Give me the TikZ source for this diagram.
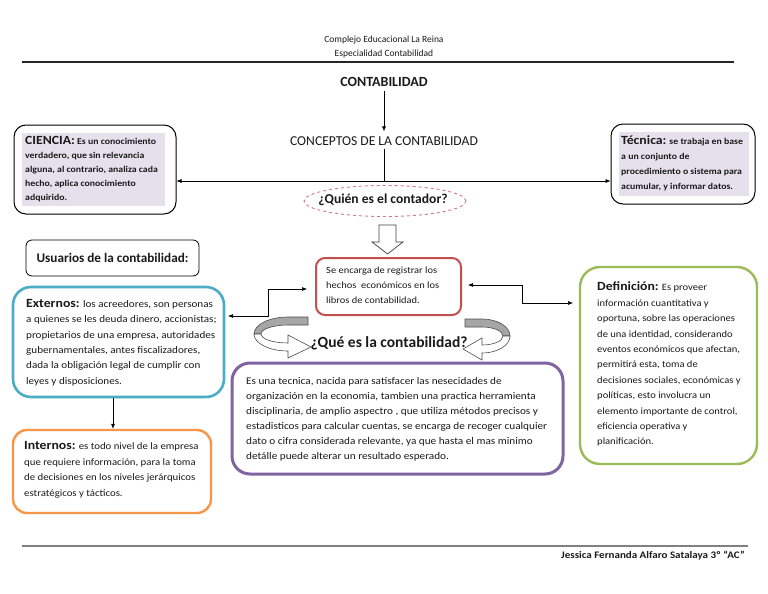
\documentclass[tikz,border=0pt]{standalone}
\usepackage{fontspec}
\setmainfont{Carlito}
\newfontfamily\widefont[FakeStretch=1.1]{Carlito}
\usetikzlibrary{arrows.meta,shapes.geometric,calc}
\definecolor{cred}{HTML}{C0504D}
\definecolor{cblue}{HTML}{4BACC6}
\definecolor{corange}{HTML}{F79646}
\definecolor{cgreen}{HTML}{9BBB59}
\definecolor{cpurple}{HTML}{8064A2}
\definecolor{clav}{HTML}{E5E0EC}
\definecolor{cdash}{HTML}{D9777A}
\definecolor{ctext}{HTML}{1A1A1A}
\begin{document}
\begin{tikzpicture}[x=1pt,y=-1pt,
  boxs/.style={draw, rounded corners=#1, inner sep=0pt},
  txt/.style={anchor=north west, inner sep=0pt, align=left, text=ctext},
  ctr/.style={inner sep=0pt, text=ctext},
  arr/.style={-{Latex[length=5pt,width=4pt]}, line width=0.6pt},
  darr/.style={{Latex[length=5pt,width=4pt]}-{Latex[length=5pt,width=4pt]}, line width=0.6pt}
]
\useasboundingbox (0,0) rectangle (768,594);
\fill[white] (0,0) rectangle (768,594);

% header
\node[ctr, font=\fontsize{9.5}{11}\selectfont] (h1) at (384,40) {Complejo Educacional La Reina};
\node[ctr, font=\fontsize{9.5}{11}\selectfont] (h2) at (384,54) {Especialidad Contabilidad};
\draw[line width=1.2pt, black!85] (22,62) -- (734,62);

% title
\node[ctr, font=\fontsize{14}{15}\selectfont\bfseries] (contab) at (384,82) {CONTABILIDAD};
\node[ctr, font=\fontsize{13.6}{15}\selectfont] (concep) at (384,141) {CONCEPTOS DE LA CONTABILIDAD};
\coordinate (hub) at (384,181);
\draw[arr, shorten >=5pt] (384,91) -- (concep.north);
\draw[line width=0.6pt, shorten <=3pt] (concep.south) -- (hub);

% CIENCIA
\node[boxs=12pt, line width=1pt, minimum width=162pt, minimum height=89pt] (ciencia) at (95,169.5) {};
\node[fill=clav, inner sep=0pt, minimum width=143pt, minimum height=73pt] (cienciain) at (93.5,169.5) {};
\node[txt, font=\widefont\fontsize{8.9}{14}\selectfont\bfseries] (cienciat) at (25,136)
 {{\fontsize{12.5}{13}\selectfont CIENCIA:} Es un conocimiento\\verdadero, que sin relevancia\\alguna, al contrario, analiza cada\\hecho, aplica conocimiento\\adquirido.};

% Tecnica
\node[boxs=12pt, line width=1pt, minimum width=144pt, minimum height=80pt] (tecnica) at (683,164) {};
\node[fill=clav, inner sep=0pt, minimum width=130pt, minimum height=64pt] (tecnicain) at (684,164) {};
\node[txt, font=\widefont\fontsize{8.9}{14.7}\selectfont\bfseries] (tecnicat) at (621,136)
 {{\fontsize{12.5}{13}\selectfont Técnica:} se trabaja en base\\a un conjunto de\\procedimiento o sistema para\\acumular, y informar datos.};

\draw[arr] (hub) -- (ciencia.east |- hub);
\draw[arr] (hub) -- (tecnica.west |- hub);

% Quien es el contador
\node[draw=cdash, dashed, line width=0.9pt, ellipse, minimum width=162pt, minimum height=31pt, inner sep=0pt] (quien) at (385,201) {};
\node[ctr, font=\fontsize{13.6}{14}\selectfont\bfseries] (quient) at (383,200) {¿Quién es el contador?};

% block arrow down
\draw[line width=0.7pt, black!75, fill=white] (379,225) -- (396,225) -- (396,242) -- (403,242) -- (387.5,254) -- (372,242) -- (379,242) -- cycle;

% red box
\node[boxs=9pt, draw=cred, line width=2pt, minimum width=145pt, minimum height=57pt] (red) at (388.5,286.5) {};
\node[txt, font=\widefont\fontsize{9.5}{15}\selectfont] (redt) at (326,267)
 {Se encarga de registrar los\\hechos\ \ económicos en los\\libros de contabilidad.};

% Usuarios
\node[boxs=6pt, line width=0.8pt, minimum width=173pt, minimum height=36pt] (usu) at (112.5,258) {};
\node[ctr, font=\fontsize{13.2}{14}\selectfont\bfseries] (usut) at (112.5,258) {Usuarios de la contabilidad:};

% Externos
\node[boxs=18pt, draw=cblue, line width=2.6pt, minimum width=211pt, minimum height=110pt] (ext) at (118.5,342) {};
\node[txt, font=\widefont\fontsize{10.1}{15.4}\selectfont] (extt) at (26,299)
 {{\fontsize{12.5}{13}\selectfont\bfseries Externos:} los acreedores, son personas\\a quienes se les deuda dinero, accionistas;\\propietarios de una empresa, autoridades\\gubernamentales, antes fiscalizadores,\\dada la obligación legal de cumplir con\\leyes y disposiciones.};

% Internos
\node[boxs=14pt, draw=corange, line width=2.4pt, minimum width=198pt, minimum height=83pt] (inte) at (112,471.5) {};
\node[txt, font=\widefont\fontsize{9.8}{15.8}\selectfont] (intet) at (24,441)
 {{\fontsize{12.5}{13}\selectfont\bfseries Internos:} es todo nivel de la empresa\\que requiere información, para la toma\\de decisiones en los niveles jerárquicos\\estratégicos y tácticos.};
\draw[arr] (113,398) -- (inte.north -| 113,0);

% Definicion
\node[boxs=20pt, draw=cgreen, line width=2.4pt, minimum width=177pt, minimum height=197pt] (defi) at (668.5,365.5) {};
\node[txt, font=\widefont\fontsize{9.6}{15.4}\selectfont] (defit) at (597,282)
 {{\fontsize{12.5}{13}\selectfont\bfseries Definición:} Es proveer\\información cuantitativa y\\oportuna, sobre las operaciones\\de una identidad, considerando\\eventos económicos que afectan,\\permitirá esta, toma de\\decisiones sociales, económicas y\\políticas, esto involucra un\\elemento importante de control,\\eficiencia operativa y\\planificación.};

% Purple
\node[boxs=18pt, draw=cpurple, line width=3pt, minimum width=331pt, minimum height=111pt] (purp) at (397.5,418.5) {};
\node[txt, font=\widefont\fontsize{10.2}{15}\selectfont] (purpt) at (246,377)
 {Es una tecnica, nacida para satisfacer las nesecidades de\\organización en la economia, tambien una practica herramienta\\disciplinaria, de amplio aspectro , que utiliza métodos precisos y\\estadisticos para calcular cuentas, se encarga de recoger cualquier\\dato o cifra considerada relevante, ya que hasta el mas minimo\\detálle puede alterar un resultado esperado.};

% Que es la contabilidad
\node[ctr, font=\fontsize{15.5}{17}\selectfont\bfseries] (que) at (389,343) {¿Qué es la contabilidad?};

% elbow connectors
\coordinate (la) at (228,316);
\coordinate (lb) at (307,289);
\draw[darr] (la) -- (268,316) -- (268,289) -- (lb);
\coordinate (ra) at (468,285);
\coordinate (rb) at (573,303);
\draw[darr] (ra) -- (522,285) -- (522,303) -- (rb);

% curved arrows (left)
\draw[line width=0.6pt, black!70, fill=black!35] (308,317) -- (288,317) arc[start angle=270, end angle=180, x radius=34, y radius=17] -- (261,334) arc[start angle=180, end angle=270, x radius=27, y radius=9] -- (308,325) -- cycle;
\draw[line width=0.6pt, black!70, fill=white] (254,334) arc[start angle=180, end angle=90, x radius=34, y radius=17] -- (288,358) -- (311,347) -- (288,335) -- (288,343) arc[start angle=90, end angle=180, x radius=27, y radius=9] -- cycle;
% curved arrows (right)
\draw[line width=0.6pt, black!70, fill=black!35] (465,319) -- (482,319) arc[start angle=270, end angle=360, x radius=28, y radius=17] -- (503,336) arc[start angle=0, end angle=-90, x radius=21, y radius=9] -- (465,327) -- cycle;
\draw[line width=0.6pt, black!70, fill=white] (510,336) arc[start angle=0, end angle=90, x radius=28, y radius=17] -- (482,360) -- (463,349) -- (482,338) -- (482,345) arc[start angle=90, end angle=0, x radius=21, y radius=9] -- cycle;

% footer
\draw[line width=1.2pt, black!50] (22,546) -- (748,546);
\node[anchor=east, inner sep=0pt, text=ctext, font=\widefont\fontsize{10}{11}\selectfont\bfseries] (author) at (745,556) {Jessica Fernanda Alfaro Satalaya 3º “AC”};
\end{tikzpicture}
\end{document}
